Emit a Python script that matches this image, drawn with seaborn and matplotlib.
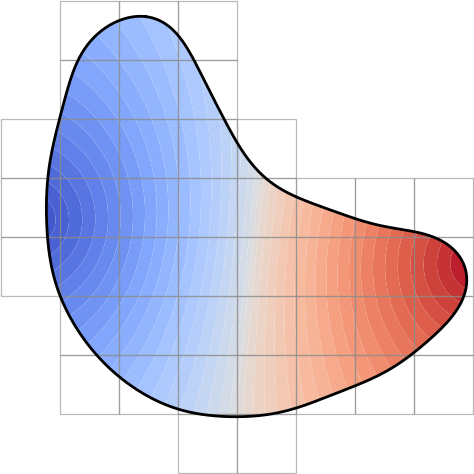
import numpy as np
import matplotlib
matplotlib.use("Agg")
import matplotlib.pyplot as plt
from matplotlib.path import Path
from matplotlib.patches import PathPatch, Rectangle
import seaborn as sns

# Outline of the shape, in grid units (one grid cell = 1), clockwise from the top
outline_x = [2.44, 3.03, 3.37, 3.71, 4.02, 4.34, 4.68, 5.02, 5.47, 6.00, 6.54, 7.00,
             7.39, 7.68, 7.90, 7.85, 7.61, 7.00, 6.54, 6.00, 5.36, 4.56, 4.00, 2.98,
             2.53, 2.00, 1.68, 1.39, 1.00, 0.83, 0.79, 0.77, 0.86, 1.00, 1.09, 1.29, 1.68]
outline_y = [7.76, 7.39, 6.78, 6.15, 5.56, 5.14, 4.85, 4.68, 4.49, 4.32, 4.17, 4.08,
             3.98, 3.78, 3.37, 2.98, 2.64, 2.02, 1.74, 1.48, 1.22, 1.00, 0.95, 1.08,
             1.29, 1.63, 1.92, 2.31, 2.98, 3.66, 4.00, 4.63, 5.47, 6.02, 6.32, 7.00, 7.46]

# Grid cells touching the shape: row (from the bottom) -> first and last column
cell_rows = [0, 1, 2, 3, 4, 5, 6, 7]
cell_first = [3, 1, 1, 0, 0, 0, 1, 1]
cell_last = [4, 7, 7, 7, 7, 4, 3, 3]

# Two poles of the field (cold on the left, warm on the right)
pole_cold = (0.49, 4.29)
pole_warm = (8.05, 3.55)
n_bands = 40


def closed_curve(xs, ys, n=30, alpha=0.5, harmonics=12):
    # periodic centripetal Catmull-Rom through the outline points,
    # then smoothed with a low-order Fourier series
    P = np.column_stack([xs, ys])
    N = len(P)
    parts = []
    for i in range(N):
        p0, p1, p2, p3 = P[i - 1], P[i], P[(i + 1) % N], P[(i + 2) % N]
        t0 = 0.0
        t1 = t0 + np.linalg.norm(p1 - p0) ** alpha
        t2 = t1 + np.linalg.norm(p2 - p1) ** alpha
        t3 = t2 + np.linalg.norm(p3 - p2) ** alpha
        t = np.linspace(t1, t2, n, endpoint=False)[:, None]
        a1 = (t1 - t) / (t1 - t0) * p0 + (t - t0) / (t1 - t0) * p1
        a2 = (t2 - t) / (t2 - t1) * p1 + (t - t1) / (t2 - t1) * p2
        a3 = (t3 - t) / (t3 - t2) * p2 + (t - t2) / (t3 - t2) * p3
        b1 = (t2 - t) / (t2 - t0) * a1 + (t - t0) / (t2 - t0) * a2
        b2 = (t3 - t) / (t3 - t1) * a2 + (t - t1) / (t3 - t1) * a3
        parts.append((t2 - t) / (t2 - t1) * b1 + (t - t1) / (t2 - t1) * b2)
    pts = np.vstack(parts)
    # resample by arc length
    closed = np.vstack([pts, pts[:1]])
    seg = np.hypot(*np.diff(closed, axis=0).T)
    s = np.concatenate([[0], np.cumsum(seg)])
    m = 1024
    si = np.linspace(0, s[-1], m, endpoint=False)
    z = np.interp(si, s, closed[:, 0]) + 1j * np.interp(si, s, closed[:, 1])
    Z = np.fft.fft(z)
    k = np.fft.fftfreq(m, 1.0 / m)
    Z[np.abs(k) > harmonics] = 0
    zs = np.fft.ifft(Z)
    out = np.column_stack([zs.real, zs.imag])
    return np.vstack([out, out[:1]])


sns.set_style("white")
fig = plt.figure(figsize=(4.74, 4.74), dpi=100)
ax = fig.add_axes([0, 0, 1, 1])

curve = closed_curve(outline_x, outline_y)
path = Path(curve)

# field: Apollonius-type circles around the two poles
xx, yy = np.meshgrid(np.linspace(0.5, 8.1, 700), np.linspace(0.7, 8.0, 700))
r1 = np.hypot(xx - pole_cold[0], yy - pole_cold[1])
r2 = np.hypot(xx - pole_warm[0], yy - pole_warm[1])
field = (r1 - r2) / (r1 + r2)

inside = path.contains_points(np.column_stack([xx.ravel(), yy.ravel()]))
fmax = np.abs(field.ravel()[inside]).max()

u = np.linspace(-1, 1, n_bands + 1)
levels = np.sign(u) * np.abs(u) ** 1.3 * fmax
levels[0], levels[-1] = -1.01, 1.01
colors = sns.color_palette("coolwarm", n_bands)
cs = ax.contourf(xx, yy, field, levels=levels, colors=colors, antialiased=True)
patch = PathPatch(path, facecolor="none", edgecolor="none")
ax.add_patch(patch)
cs.set_clip_path(patch)

# grid squares
for row, c0, c1 in zip(cell_rows, cell_first, cell_last):
    for col in range(c0, c1 + 1):
        ax.add_patch(Rectangle((col, row), 1, 1, facecolor="none",
                               edgecolor="#8c8c8c", linewidth=0.9, alpha=0.6, zorder=3))

ax.plot(curve[:, 0], curve[:, 1], color="black", linewidth=2.0, zorder=4)

ax.set_xlim(-0.017, 8.017)
ax.set_ylim(-0.017, 8.017)
ax.set_aspect("equal")
ax.axis("off")
fig.savefig("out.png", dpi=100)
